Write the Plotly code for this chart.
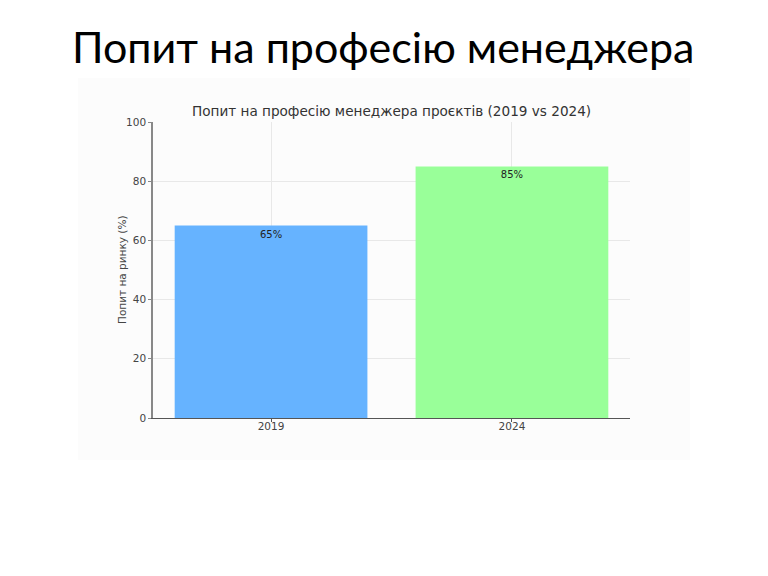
import plotly.graph_objects as go

# data
years = ["2019", "2024"]
demand = [65, 85]
bar_colors = ["#66b3ff", "#99ff99"]
labels = [f"{v}%" for v in demand]

slide_title = "Попит на професію менеджера"
chart_title = "Попит на професію менеджера проєктів (2019 vs 2024)"
y_title = "Попит на ринку (%)"

W, H = 768, 576
OFF = 8  # page body margin shifts the figure by this much
L, R, T, B = 153 - OFF, 138 + OFF, 122 - OFF, 158 + OFF
PW, PH = W - L - R, H - T - B


def px_x(x):
    return (x - OFF - L) / PW


def px_y(y):
    return 1 - (y - OFF - T) / PH


fig = go.Figure()
fig.add_trace(go.Bar(
    x=years, y=demand, marker_color=bar_colors, marker_line_width=0,
    width=0.8, text=labels, textposition="inside", insidetextanchor="end",
    textfont=dict(family="DejaVu Sans", size=10, color="#222"),
    textangle=0, cliponaxis=False, showlegend=False,
))

fig.update_layout(
    width=W, height=H, autosize=False,
    margin=dict(l=L, r=R, t=T, b=B),
    paper_bgcolor="white", plot_bgcolor="rgba(0,0,0,0)",
    font=dict(family="DejaVu Sans", size=10.5, color="#444"),
    shapes=[
        # faint background of the pasted chart image
        dict(type="rect", xref="paper", yref="paper", layer="below",
             x0=px_x(78), x1=px_x(690), y0=px_y(460), y1=px_y(78),
             fillcolor="#fcfcfc", line_width=0),
    ],
    annotations=[
        dict(text=slide_title, xref="paper", yref="paper",
             x=px_x(383), y=px_y(47),
             xanchor="center", yanchor="middle", showarrow=False,
             font=dict(family="Lato", size=43, color="black")),
        dict(text=chart_title, xref="paper", yref="paper",
             x=px_x(391), y=px_y(111),
             xanchor="center", yanchor="middle", showarrow=False,
             font=dict(family="DejaVu Sans", size=13.6, color="#333")),
        dict(text=y_title, xref="paper", yref="paper", textangle=-90,
             x=px_x(122), y=px_y(270),
             xanchor="center", yanchor="middle", showarrow=False,
             font=dict(family="DejaVu Sans", size=10.5, color="#444")),
    ],
)

fig.update_xaxes(
    type="category", range=[-0.49, 1.49],
    showgrid=True, gridcolor="#e8e8e8", gridwidth=1,
    showline=True, linecolor="#555", linewidth=1.2,
    ticks="outside", ticklen=3, tickcolor="#555",
    tickfont=dict(size=10.5, color="#444"), ticklabelstandoff=-5,
)
fig.update_yaxes(
    range=[0, 100], dtick=20,
    showgrid=True, gridcolor="#e8e8e8", gridwidth=1,
    showline=True, linecolor="#888", linewidth=1.5,
    ticks="outside", ticklen=3, tickcolor="#888",
    tickfont=dict(size=10.5, color="#444"), zeroline=False,
    ticklabelstandoff=0,
)

fig.write_html("out.html")
